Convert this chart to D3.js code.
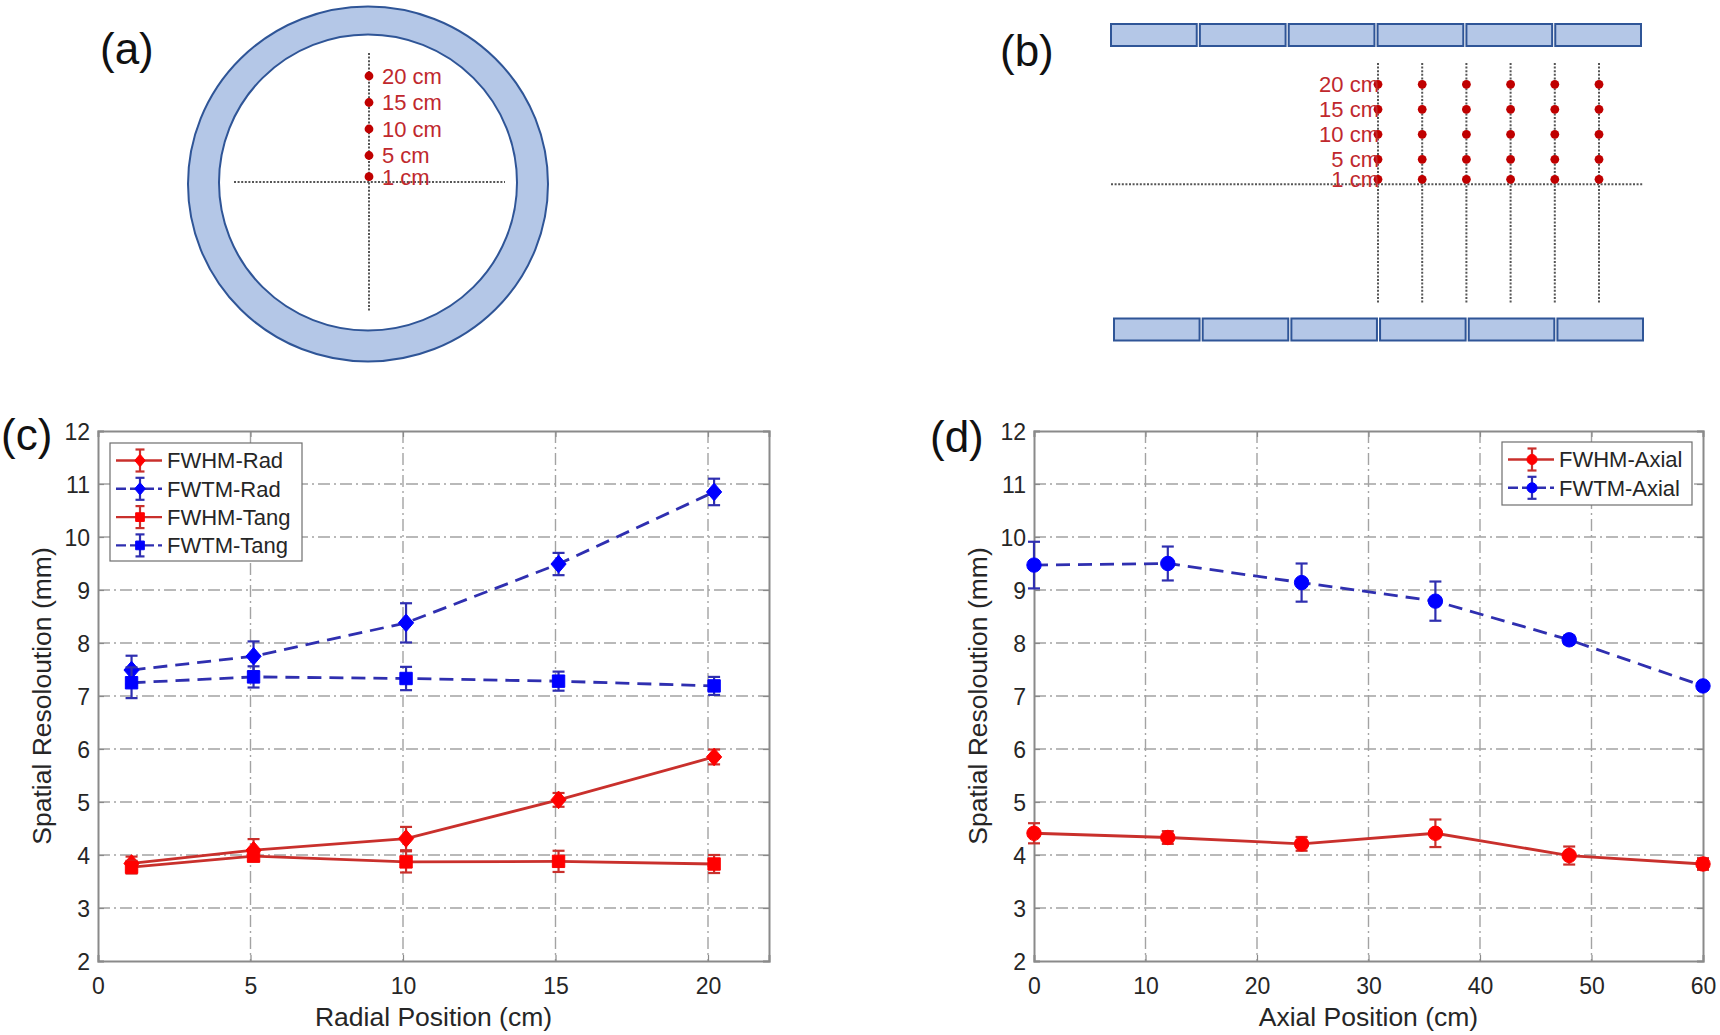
<!DOCTYPE html>
<html><head><meta charset="utf-8">
<script src="https://cdn.jsdelivr.net/npm/d3@7"></script>
<style>
body{margin:0;background:#fff}
svg{display:block}
text{font-family:"Liberation Sans",Arial,Helvetica,sans-serif}
</style>
</head><body>
<svg id="fig" width="1720" height="1035"></svg>
<script>
// ---------- data ----------
const radialPos = [1.1, 5.1, 10.1, 15.1, 20.2];
const fwhmRad = [3.84, 4.09, 4.31, 5.04, 5.85];
const fwhmRadErr = [0.13, 0.21, 0.22, 0.13, 0.14];
const fwtmRad = [7.49, 7.75, 8.38, 9.49, 10.85];
const fwtmRadErr = [0.27, 0.28, 0.37, 0.21, 0.25];
const fwhmTang = [3.77, 3.98, 3.87, 3.88, 3.83];
const fwhmTangErr = [0.12, 0.10, 0.20, 0.20, 0.17];
const fwtmTang = [7.25, 7.36, 7.33, 7.28, 7.19];
const fwtmTangErr = [0.29, 0.20, 0.22, 0.18, 0.17];

const axialPos = [0, 12, 24, 36, 48, 60];
const fwhmAxial = [4.41, 4.33, 4.21, 4.41, 3.99, 3.83];
const fwhmAxialErr = [0.19, 0.12, 0.13, 0.26, 0.17, 0.11];
const fwtmAxial = [9.47, 9.50, 9.14, 8.79, 8.06, 7.19];
const fwtmAxialErr = [0.44, 0.32, 0.36, 0.37, 0.08, 0.06];

const yTicks = [2, 3, 4, 5, 6, 7, 8, 9, 10, 11, 12];
const radialTicks = [0, 5, 10, 15, 20];
const axialTicks = [0, 10, 20, 30, 40, 50, 60];

const sourceRadii = [1, 5, 10, 15, 20];
const sourceLabels = ["1 cm", "5 cm", "10 cm", "15 cm", "20 cm"];
const ringPositions = [0, 12, 24, 36, 48, 60];
const detectorModules = [0, 1, 2, 3, 4, 5];

const labelYC = "Spatial Resoloution (mm)";

// ---------- helpers ----------
const svg = d3.select("#fig");
const RED_LINE = "#c9302c", RED_MK = "#ff0000";
const BLUE_LINE = "#2f2fb0", BLUE_MK = "#0000ff";
const DARK_RED = "#c00000";
const RING_FILL = "#b4c7e7", RING_STROKE = "#2f5597";

function markerPath(type, s) {
  s = s || 1;
  if (type === "diamond") {
    const w = 7.6 * s, h = 8.8 * s;
    return `M0,${-h}L${w},0L0,${h}L${-w},0Z`;
  } else if (type === "square") {
    const a = 6.2 * s;
    return `M${-a},${-a}H${a}V${a}H${-a}Z`;
  } else {
    const r = 7.2 * s;
    return `M${-r},0A${r},${r} 0 1,0 ${r},0A${r},${r} 0 1,0 ${-r},0Z`;
  }
}

function drawPanel(cfg) {
  const g = svg.append("g");
  const x = d3.scaleLinear().domain(cfg.xDomain).range([cfg.left, cfg.right]);
  const y = d3.scaleLinear().domain([2, 12]).range([961, 431]);
  const gridStyle = s => s.attr("stroke", "#a3a3a3").attr("stroke-width", 1.4).attr("stroke-dasharray", "12,4,2,4");

  g.selectAll(".hg").data(yTicks.filter(v => v > 2 && v < 12)).join("line")
    .attr("x1", cfg.left).attr("x2", cfg.right).attr("y1", d => y(d)).attr("y2", d => y(d)).call(gridStyle);
  g.selectAll(".vg").data(cfg.xTicks.filter(v => v > cfg.xDomain[0] && v < cfg.xDomain[1])).join("line")
    .attr("y1", 431).attr("y2", 961).attr("x1", d => x(d)).attr("x2", d => x(d)).call(gridStyle);

  const ax = g.append("g").attr("transform", "translate(0,961)")
    .call(d3.axisBottom(x).tickValues(cfg.xTicks).tickSize(-6).tickPadding(0).tickFormat(d3.format("d")));
  const ay = g.append("g").attr("transform", `translate(${cfg.left},0)`)
    .call(d3.axisLeft(y).tickValues(yTicks).tickSize(-6).tickPadding(0).tickFormat(d3.format("d")));
  const ax2 = g.append("g").attr("transform", "translate(0,431)")
    .call(d3.axisTop(x).tickValues(cfg.xTicks).tickSize(-6).tickFormat(""));
  const ay2 = g.append("g").attr("transform", `translate(${cfg.right},0)`)
    .call(d3.axisRight(y).tickValues(yTicks).tickSize(-6).tickFormat(""));
  [ax, ay, ax2, ay2].forEach(a => {
    a.select(".domain").attr("stroke", "#8a8a8a").attr("stroke-width", 2);
    a.selectAll(".tick line").attr("stroke", "#8a8a8a").attr("stroke-width", 1.2);
  });
  ax.selectAll(".tick text").attr("font-size", 23).attr("fill", "#262626").attr("y", 0).attr("dy", "33px")
    .style("font-family", "'Liberation Sans', Arial, sans-serif");
  ay.selectAll(".tick text").attr("font-size", 23).attr("fill", "#262626").attr("x", -8).attr("dy", "0.36em")
    .style("font-family", "'Liberation Sans', Arial, sans-serif");

  cfg.series.forEach(s => {
    const pts = s.x.map((xv, i) => ({ x: xv, y: s.y[i], e: s.e[i] }));
    const sg = g.append("g");
    sg.append("path").datum(pts)
      .attr("d", d3.line().x(d => x(d.x)).y(d => y(d.y)))
      .attr("fill", "none").attr("stroke", s.line).attr("stroke-width", 2.8)
      .attr("stroke-dasharray", s.dashed ? "14,8" : null);
    const eb = sg.selectAll(".eb").data(pts).join("g");
    eb.append("line").attr("x1", d => x(d.x)).attr("x2", d => x(d.x))
      .attr("y1", d => y(d.y - d.e)).attr("y2", d => y(d.y + d.e))
      .attr("stroke", s.line).attr("stroke-width", 2.2);
    [-1, 1].forEach(sign => {
      eb.append("line").attr("x1", d => x(d.x) - 6).attr("x2", d => x(d.x) + 6)
        .attr("y1", d => y(d.y + sign * d.e)).attr("y2", d => y(d.y + sign * d.e))
        .attr("stroke", s.line).attr("stroke-width", 2.2);
    });
    sg.selectAll(".mk").data(pts).join("path")
      .attr("transform", d => `translate(${x(d.x)},${y(d.y)})`)
      .attr("d", markerPath(s.marker)).attr("fill", s.mk).attr("stroke", s.mk).attr("stroke-width", 1);
  });

  const L = cfg.legend;
  const lg = g.append("g");
  lg.append("rect").attr("x", L.x).attr("y", L.y).attr("width", L.w).attr("height", L.h)
    .attr("fill", "#fff").attr("stroke", "#6e6e6e").attr("stroke-width", 1.2);
  cfg.series.forEach((s, i) => {
    const cy = L.y + 17.5 + i * 28.3;
    const x0 = L.x + 6, x1 = L.x + 52, mx = L.x + 30;
    lg.append("line").attr("x1", x0).attr("x2", x1).attr("y1", cy).attr("y2", cy)
      .attr("stroke", s.line).attr("stroke-width", 2.4).attr("stroke-dasharray", s.dashed ? "10,4" : null);
    lg.append("line").attr("x1", mx).attr("x2", mx).attr("y1", cy - 11).attr("y2", cy + 11)
      .attr("stroke", s.line).attr("stroke-width", 2.2);
    [-11, 11].forEach(o => lg.append("line").attr("x1", mx - 4.5).attr("x2", mx + 4.5)
      .attr("y1", cy + o).attr("y2", cy + o).attr("stroke", s.line).attr("stroke-width", 2.2));
    lg.append("path").attr("transform", `translate(${mx},${cy})`).attr("d", markerPath(s.marker, 0.7))
      .attr("fill", s.mk).attr("stroke", s.mk);
    lg.append("text").attr("x", L.x + 57).attr("y", cy).attr("dy", "0.36em")
      .attr("font-size", 22).attr("fill", "#262626").text(s.name);
  });

  g.append("text").attr("x", (cfg.left + cfg.right) / 2).attr("y", 1026).attr("text-anchor", "middle")
    .attr("font-size", 26.5).attr("fill", "#262626").text(cfg.xLabel);
  g.append("text").attr("transform", `translate(${cfg.yLabelX},696) rotate(-90)`).attr("text-anchor", "middle")
    .attr("font-size", 26.5).attr("fill", "#262626").text(labelYC);
  g.append("text").attr("x", cfg.tagX).attr("y", cfg.tagY).attr("font-size", 44).attr("fill", "#111").text(cfg.tag);
}

drawPanel({
  left: 98, right: 769, xDomain: [0, 22], xTicks: radialTicks,
  xLabel: "Radial Position (cm)", yLabelX: 51, tag: "(c)", tagX: 1, tagY: 450,
  legend: { x: 110, y: 443, w: 192, h: 118 },
  series: [
    { name: "FWHM-Rad", x: radialPos, y: fwhmRad, e: fwhmRadErr, line: RED_LINE, mk: RED_MK, dashed: false, marker: "diamond" },
    { name: "FWTM-Rad", x: radialPos, y: fwtmRad, e: fwtmRadErr, line: BLUE_LINE, mk: BLUE_MK, dashed: true, marker: "diamond" },
    { name: "FWHM-Tang", x: radialPos, y: fwhmTang, e: fwhmTangErr, line: RED_LINE, mk: RED_MK, dashed: false, marker: "square" },
    { name: "FWTM-Tang", x: radialPos, y: fwtmTang, e: fwtmTangErr, line: BLUE_LINE, mk: BLUE_MK, dashed: true, marker: "square" }
  ]
});

drawPanel({
  left: 1034, right: 1703, xDomain: [0, 60], xTicks: axialTicks,
  xLabel: "Axial Position (cm)", yLabelX: 987, tag: "(d)", tagX: 930, tagY: 452,
  legend: { x: 1502, y: 442, w: 190, h: 63 },
  series: [
    { name: "FWHM-Axial", x: axialPos, y: fwhmAxial, e: fwhmAxialErr, line: RED_LINE, mk: RED_MK, dashed: false, marker: "circle" },
    { name: "FWTM-Axial", x: axialPos, y: fwtmAxial, e: fwtmAxialErr, line: BLUE_LINE, mk: BLUE_MK, dashed: true, marker: "circle" }
  ]
});

// ---------- panel (a): transaxial schematic ----------
(function () {
  const g = svg.append("g");
  const cx = 368, cy = 184;
  g.append("ellipse").attr("cx", cx).attr("cy", cy).attr("rx", 180).attr("ry", 177.5)
    .attr("fill", RING_FILL).attr("stroke", RING_STROKE).attr("stroke-width", 2);
  g.append("ellipse").attr("cx", cx).attr("cy", cy - 1.5).attr("rx", 149).attr("ry", 148)
    .attr("fill", "#fff").attr("stroke", RING_STROKE).attr("stroke-width", 2);
  const r = d3.scaleLinear().domain([0, 20]).range([182, 76]);
  const dot = s => s.attr("stroke", "#555").attr("stroke-width", 2).attr("stroke-dasharray", "2,1.6");
  g.append("line").attr("x1", 234).attr("x2", 505).attr("y1", r(0)).attr("y2", r(0)).call(dot);
  g.append("line").attr("x1", 369).attr("x2", 369).attr("y1", 53).attr("y2", 311).call(dot);
  g.selectAll(".src").data(sourceRadii).join("circle").attr("cx", 369).attr("cy", d => r(d)).attr("r", 4.4).attr("fill", DARK_RED);
  g.selectAll(".lab").data(sourceRadii).join("text").attr("x", 382).attr("y", d => r(d)).attr("dy", "0.36em")
    .attr("font-size", 22).attr("fill", "#c0282d").text((d, i) => sourceLabels[i]);
  g.append("text").attr("x", 100).attr("y", 64).attr("font-size", 44).attr("fill", "#111").text("(a)");
})();

// ---------- panel (b): axial schematic ----------
(function () {
  const g = svg.append("g");
  const bandTop = d3.scaleBand().domain(detectorModules).range([1111, 1641]).paddingInner(0.035);
  const bandBot = d3.scaleBand().domain(detectorModules).range([1114, 1643]).paddingInner(0.035);
  g.selectAll(".mt").data(detectorModules).join("rect").attr("x", d => bandTop(d)).attr("y", 24)
    .attr("width", bandTop.bandwidth()).attr("height", 22).attr("fill", RING_FILL).attr("stroke", RING_STROKE).attr("stroke-width", 2);
  g.selectAll(".mb").data(detectorModules).join("rect").attr("x", d => bandBot(d)).attr("y", 318.5)
    .attr("width", bandBot.bandwidth()).attr("height", 22).attr("fill", RING_FILL).attr("stroke", RING_STROKE).attr("stroke-width", 2);
  const ax = d3.scaleLinear().domain([0, 60]).range([1378, 1599]);
  const ry = d3.scaleLinear().domain([0, 20]).range([184.3, 84.3]);
  const dot = s => s.attr("stroke", "#555").attr("stroke-width", 2).attr("stroke-dasharray", "2,1.6");
  g.append("line").attr("x1", 1111).attr("x2", 1643).attr("y1", ry(0)).attr("y2", ry(0)).call(dot);
  g.selectAll(".vl").data(ringPositions).join("line").attr("x1", d => ax(d)).attr("x2", d => ax(d))
    .attr("y1", 63).attr("y2", 303).call(dot);
  ringPositions.forEach(p => {
    g.selectAll(null).data(sourceRadii).join("circle").attr("cx", ax(p)).attr("cy", d => ry(d)).attr("r", 4.4).attr("fill", DARK_RED);
  });
  g.selectAll(".lab").data(sourceRadii).join("text").attr("x", ax(0) + 1).attr("y", d => ry(d)).attr("dy", "0.36em")
    .attr("text-anchor", "end").attr("font-size", 22).attr("fill", "#c0282d").text((d, i) => sourceLabels[i]);
  g.append("text").attr("x", 1000).attr("y", 66).attr("font-size", 44).attr("fill", "#111").text("(b)");
})();
</script>
</body></html>
